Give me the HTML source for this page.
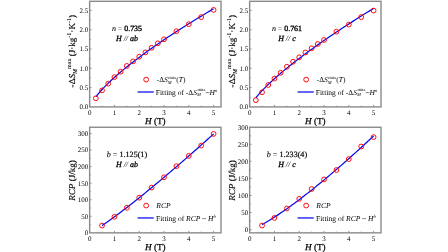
<!DOCTYPE html>
<html><head><meta charset="utf-8"><style>html,body{margin:0;padding:0;background:#fff;width:448px;height:252px;overflow:hidden}svg{display:block;filter:blur(0.5px)}</style></head>
<body>
<svg width="448" height="252" viewBox="0 0 448 252" font-family="'Liberation Serif', 'Times New Roman', serif" fill="#000" text-rendering="geometricPrecision">
<rect width="448" height="252" fill="#fff"/>
<polyline points="95.85,96.8 97.84,94.31 99.84,91.98 101.83,89.76 103.83,87.64 105.83,85.6 107.82,83.62 109.82,81.7 111.81,79.83 113.81,78 115.81,76.21 117.8,74.46 119.8,72.74 121.79,71.05 123.79,69.39 125.78,67.76 127.78,66.14 129.78,64.55 131.77,62.99 133.77,61.44 135.76,59.91 137.76,58.39 139.76,56.9 141.75,55.41 143.75,53.95 145.74,52.5 147.74,51.06 149.73,49.63 151.73,48.22 153.73,46.82 155.72,45.43 157.72,44.05 159.71,42.68 161.71,41.33 163.7,39.98 165.7,38.64 167.7,37.31 169.69,35.99 171.69,34.68 173.68,33.38 175.68,32.09 177.68,30.8 179.67,29.52 181.67,28.25 183.66,26.99 185.66,25.73 187.65,24.48 189.65,23.24 191.65,22 193.64,20.77 195.64,19.55 197.63,18.33 199.63,17.12 201.63,15.91 203.62,14.71 205.62,13.52 207.61,12.33 209.61,11.14 211.6,9.97 213.6,8.79" fill="none" stroke="#0808ee" stroke-width="1.25"/>
<circle cx="95.85" cy="98.3" r="2.4" fill="none" stroke="#ff0000" stroke-width="0.95"/>
<circle cx="102.05" cy="90.4" r="2.4" fill="none" stroke="#ff0000" stroke-width="0.95"/>
<circle cx="108.24" cy="83.6" r="2.4" fill="none" stroke="#ff0000" stroke-width="0.95"/>
<circle cx="114.44" cy="77.1" r="2.4" fill="none" stroke="#ff0000" stroke-width="0.95"/>
<circle cx="120.64" cy="71.7" r="2.4" fill="none" stroke="#ff0000" stroke-width="0.95"/>
<circle cx="126.84" cy="65.9" r="2.4" fill="none" stroke="#ff0000" stroke-width="0.95"/>
<circle cx="133.03" cy="61.4" r="2.4" fill="none" stroke="#ff0000" stroke-width="0.95"/>
<circle cx="139.23" cy="56.7" r="2.4" fill="none" stroke="#ff0000" stroke-width="0.95"/>
<circle cx="145.43" cy="52.4" r="2.4" fill="none" stroke="#ff0000" stroke-width="0.95"/>
<circle cx="151.62" cy="47.8" r="2.4" fill="none" stroke="#ff0000" stroke-width="0.95"/>
<circle cx="157.82" cy="43.3" r="2.4" fill="none" stroke="#ff0000" stroke-width="0.95"/>
<circle cx="164.02" cy="39.3" r="2.4" fill="none" stroke="#ff0000" stroke-width="0.95"/>
<circle cx="176.42" cy="31.2" r="2.4" fill="none" stroke="#ff0000" stroke-width="0.95"/>
<circle cx="188.81" cy="24.2" r="2.4" fill="none" stroke="#ff0000" stroke-width="0.95"/>
<circle cx="201.2" cy="17.1" r="2.4" fill="none" stroke="#ff0000" stroke-width="0.95"/>
<circle cx="213.6" cy="9.9" r="2.4" fill="none" stroke="#ff0000" stroke-width="0.95"/>
<rect x="89.65" y="1.3" width="131.35" height="105.6" fill="none" stroke="#8a8a8a" stroke-width="1.4"/>
<line x1="89.65" y1="106.9" x2="89.65" y2="104.9" stroke="#8a8a8a" stroke-width="0.9"/>
<text x="89.65" y="114.6" text-anchor="middle" font-size="7.0">0</text>
<line x1="102.05" y1="106.9" x2="102.05" y2="105.7" stroke="#8a8a8a" stroke-width="0.9"/>
<line x1="114.44" y1="106.9" x2="114.44" y2="104.9" stroke="#8a8a8a" stroke-width="0.9"/>
<text x="114.44" y="114.6" text-anchor="middle" font-size="7.0">1</text>
<line x1="126.84" y1="106.9" x2="126.84" y2="105.7" stroke="#8a8a8a" stroke-width="0.9"/>
<line x1="139.23" y1="106.9" x2="139.23" y2="104.9" stroke="#8a8a8a" stroke-width="0.9"/>
<text x="139.23" y="114.6" text-anchor="middle" font-size="7.0">2</text>
<line x1="151.62" y1="106.9" x2="151.62" y2="105.7" stroke="#8a8a8a" stroke-width="0.9"/>
<line x1="164.02" y1="106.9" x2="164.02" y2="104.9" stroke="#8a8a8a" stroke-width="0.9"/>
<text x="164.02" y="114.6" text-anchor="middle" font-size="7.0">3</text>
<line x1="176.42" y1="106.9" x2="176.42" y2="105.7" stroke="#8a8a8a" stroke-width="0.9"/>
<line x1="188.81" y1="106.9" x2="188.81" y2="104.9" stroke="#8a8a8a" stroke-width="0.9"/>
<text x="188.81" y="114.6" text-anchor="middle" font-size="7.0">4</text>
<line x1="201.2" y1="106.9" x2="201.2" y2="105.7" stroke="#8a8a8a" stroke-width="0.9"/>
<line x1="213.6" y1="106.9" x2="213.6" y2="104.9" stroke="#8a8a8a" stroke-width="0.9"/>
<text x="213.6" y="114.6" text-anchor="middle" font-size="7.0">5</text>
<line x1="89.65" y1="97.3" x2="90.85" y2="97.3" stroke="#8a8a8a" stroke-width="0.9"/>
<line x1="89.65" y1="87.64" x2="91.65" y2="87.64" stroke="#8a8a8a" stroke-width="0.9"/>
<line x1="89.65" y1="77.99" x2="90.85" y2="77.99" stroke="#8a8a8a" stroke-width="0.9"/>
<line x1="89.65" y1="68.33" x2="91.65" y2="68.33" stroke="#8a8a8a" stroke-width="0.9"/>
<line x1="89.65" y1="58.68" x2="90.85" y2="58.68" stroke="#8a8a8a" stroke-width="0.9"/>
<line x1="89.65" y1="49.02" x2="91.65" y2="49.02" stroke="#8a8a8a" stroke-width="0.9"/>
<line x1="89.65" y1="39.37" x2="90.85" y2="39.37" stroke="#8a8a8a" stroke-width="0.9"/>
<line x1="89.65" y1="29.71" x2="91.65" y2="29.71" stroke="#8a8a8a" stroke-width="0.9"/>
<line x1="89.65" y1="20.06" x2="90.85" y2="20.06" stroke="#8a8a8a" stroke-width="0.9"/>
<line x1="89.65" y1="10.4" x2="91.65" y2="10.4" stroke="#8a8a8a" stroke-width="0.9"/>
<text x="88.15" y="109.3" text-anchor="end" font-size="7.0">0.0</text>
<text x="88.15" y="89.99" text-anchor="end" font-size="7.0">0.5</text>
<text x="88.15" y="70.68" text-anchor="end" font-size="7.0">1.0</text>
<text x="88.15" y="51.37" text-anchor="end" font-size="7.0">1.5</text>
<text x="88.15" y="32.06" text-anchor="end" font-size="7.0">2.0</text>
<text x="88.15" y="12.75" text-anchor="end" font-size="7.0">2.5</text>
<text x="126.95" y="30.6" text-anchor="middle" font-size="7.9" stroke="#000" stroke-width="0.32"><tspan font-style="italic" stroke-width="0.1">n</tspan> <tspan stroke-width="0">=</tspan> 0.735</text>
<text x="126.95" y="40.7" text-anchor="middle" font-size="7.9" font-style="italic" stroke="#000" stroke-width="0.3">H <tspan stroke-width="0">//</tspan> ab</text>
<circle cx="146.15" cy="79.6" r="2.4" fill="none" stroke="#ff0000" stroke-width="0.95"/>
<line x1="137.55" y1="92" x2="153.75" y2="92" stroke="#0808ee" stroke-width="1.25"/>
<text x="156.65" y="82.3" font-size="7.5">-Δ<tspan font-style="italic">S</tspan><tspan font-style="italic" font-size="4.6" dy="1.4">M</tspan><tspan font-size="4.6" dy="-4.6" dx="-3.23">max</tspan><tspan dy="3.2">(</tspan><tspan font-style="italic">T</tspan>)</text>
<text x="155.85" y="94.6" font-size="7.5">Fitting of -Δ<tspan font-style="italic">S</tspan><tspan font-style="italic" font-size="4.6" dy="1.4">M</tspan><tspan font-size="4.6" dy="-4.6" dx="-3.23">max</tspan><tspan dy="3.2">~</tspan><tspan font-style="italic">H</tspan><tspan font-style="italic" font-size="4.6" dy="-3">n</tspan></text>
<text x="155.32" y="124.2" text-anchor="middle" font-size="9.1" stroke="#000" stroke-width="0.25"><tspan font-style="italic">H</tspan> (T)</text>
<text transform="translate(74.75,51.2) rotate(-90)" text-anchor="middle" font-size="9.1" stroke="#000" stroke-width="0.15">-Δ<tspan font-style="italic">S</tspan><tspan font-style="italic" font-size="6.0" dy="2.1" stroke-width="0.08">M</tspan><tspan font-size="6.0" dy="-5.6" stroke-width="0.08">max</tspan><tspan dy="3.5"> (J·kg</tspan><tspan font-size="6.0" dy="-3.5" stroke-width="0.08">-1</tspan><tspan dy="3.5">·K</tspan><tspan font-size="6.0" dy="-3.5" stroke-width="0.08">-1</tspan><tspan dy="3.5">)</tspan></text>
<polyline points="255.85,97.77 257.84,95.36 259.84,93.09 261.83,90.92 263.83,88.84 265.83,86.82 267.82,84.86 269.82,82.96 271.81,81.1 273.81,79.28 275.81,77.49 277.8,75.74 279.8,74.01 281.79,72.32 283.79,70.64 285.78,68.99 287.78,67.37 289.78,65.76 291.77,64.17 293.77,62.6 295.76,61.05 297.76,59.51 299.76,57.99 301.75,56.48 303.75,54.99 305.74,53.51 307.74,52.04 309.73,50.59 311.73,49.14 313.73,47.71 315.72,46.28 317.72,44.87 319.71,43.47 321.71,42.08 323.7,40.69 325.7,39.32 327.7,37.95 329.69,36.59 331.69,35.24 333.68,33.9 335.68,32.57 337.68,31.24 339.67,29.92 341.67,28.6 343.66,27.3 345.66,26 347.65,24.71 349.65,23.42 351.65,22.14 353.64,20.86 355.64,19.59 357.63,18.33 359.63,17.07 361.63,15.82 363.62,14.57 365.62,13.33 367.61,12.09 369.61,10.86 371.6,9.64 373.6,8.41" fill="none" stroke="#0808ee" stroke-width="1.25"/>
<circle cx="255.85" cy="100.2" r="2.4" fill="none" stroke="#ff0000" stroke-width="0.95"/>
<circle cx="262.05" cy="92.3" r="2.4" fill="none" stroke="#ff0000" stroke-width="0.95"/>
<circle cx="268.24" cy="85" r="2.4" fill="none" stroke="#ff0000" stroke-width="0.95"/>
<circle cx="274.44" cy="78.6" r="2.4" fill="none" stroke="#ff0000" stroke-width="0.95"/>
<circle cx="280.64" cy="72.8" r="2.4" fill="none" stroke="#ff0000" stroke-width="0.95"/>
<circle cx="286.84" cy="66.7" r="2.4" fill="none" stroke="#ff0000" stroke-width="0.95"/>
<circle cx="293.03" cy="61.7" r="2.4" fill="none" stroke="#ff0000" stroke-width="0.95"/>
<circle cx="299.23" cy="57.3" r="2.4" fill="none" stroke="#ff0000" stroke-width="0.95"/>
<circle cx="305.43" cy="52.5" r="2.4" fill="none" stroke="#ff0000" stroke-width="0.95"/>
<circle cx="311.62" cy="48.3" r="2.4" fill="none" stroke="#ff0000" stroke-width="0.95"/>
<circle cx="317.82" cy="44" r="2.4" fill="none" stroke="#ff0000" stroke-width="0.95"/>
<circle cx="324.02" cy="40" r="2.4" fill="none" stroke="#ff0000" stroke-width="0.95"/>
<circle cx="336.42" cy="31.7" r="2.4" fill="none" stroke="#ff0000" stroke-width="0.95"/>
<circle cx="348.81" cy="24.6" r="2.4" fill="none" stroke="#ff0000" stroke-width="0.95"/>
<circle cx="361.2" cy="17.1" r="2.4" fill="none" stroke="#ff0000" stroke-width="0.95"/>
<circle cx="373.6" cy="10.6" r="2.4" fill="none" stroke="#ff0000" stroke-width="0.95"/>
<rect x="249.65" y="1.3" width="131.35" height="105.6" fill="none" stroke="#8a8a8a" stroke-width="1.4"/>
<line x1="249.65" y1="106.9" x2="249.65" y2="104.9" stroke="#8a8a8a" stroke-width="0.9"/>
<text x="249.65" y="114.6" text-anchor="middle" font-size="7.0">0</text>
<line x1="262.05" y1="106.9" x2="262.05" y2="105.7" stroke="#8a8a8a" stroke-width="0.9"/>
<line x1="274.44" y1="106.9" x2="274.44" y2="104.9" stroke="#8a8a8a" stroke-width="0.9"/>
<text x="274.44" y="114.6" text-anchor="middle" font-size="7.0">1</text>
<line x1="286.84" y1="106.9" x2="286.84" y2="105.7" stroke="#8a8a8a" stroke-width="0.9"/>
<line x1="299.23" y1="106.9" x2="299.23" y2="104.9" stroke="#8a8a8a" stroke-width="0.9"/>
<text x="299.23" y="114.6" text-anchor="middle" font-size="7.0">2</text>
<line x1="311.62" y1="106.9" x2="311.62" y2="105.7" stroke="#8a8a8a" stroke-width="0.9"/>
<line x1="324.02" y1="106.9" x2="324.02" y2="104.9" stroke="#8a8a8a" stroke-width="0.9"/>
<text x="324.02" y="114.6" text-anchor="middle" font-size="7.0">3</text>
<line x1="336.42" y1="106.9" x2="336.42" y2="105.7" stroke="#8a8a8a" stroke-width="0.9"/>
<line x1="348.81" y1="106.9" x2="348.81" y2="104.9" stroke="#8a8a8a" stroke-width="0.9"/>
<text x="348.81" y="114.6" text-anchor="middle" font-size="7.0">4</text>
<line x1="361.2" y1="106.9" x2="361.2" y2="105.7" stroke="#8a8a8a" stroke-width="0.9"/>
<line x1="373.6" y1="106.9" x2="373.6" y2="104.9" stroke="#8a8a8a" stroke-width="0.9"/>
<text x="373.6" y="114.6" text-anchor="middle" font-size="7.0">5</text>
<line x1="249.65" y1="97.3" x2="250.85" y2="97.3" stroke="#8a8a8a" stroke-width="0.9"/>
<line x1="249.65" y1="87.64" x2="251.65" y2="87.64" stroke="#8a8a8a" stroke-width="0.9"/>
<line x1="249.65" y1="77.99" x2="250.85" y2="77.99" stroke="#8a8a8a" stroke-width="0.9"/>
<line x1="249.65" y1="68.33" x2="251.65" y2="68.33" stroke="#8a8a8a" stroke-width="0.9"/>
<line x1="249.65" y1="58.68" x2="250.85" y2="58.68" stroke="#8a8a8a" stroke-width="0.9"/>
<line x1="249.65" y1="49.02" x2="251.65" y2="49.02" stroke="#8a8a8a" stroke-width="0.9"/>
<line x1="249.65" y1="39.37" x2="250.85" y2="39.37" stroke="#8a8a8a" stroke-width="0.9"/>
<line x1="249.65" y1="29.71" x2="251.65" y2="29.71" stroke="#8a8a8a" stroke-width="0.9"/>
<line x1="249.65" y1="20.06" x2="250.85" y2="20.06" stroke="#8a8a8a" stroke-width="0.9"/>
<line x1="249.65" y1="10.4" x2="251.65" y2="10.4" stroke="#8a8a8a" stroke-width="0.9"/>
<text x="248.15" y="109.3" text-anchor="end" font-size="7.0">0.0</text>
<text x="248.15" y="89.99" text-anchor="end" font-size="7.0">0.5</text>
<text x="248.15" y="70.68" text-anchor="end" font-size="7.0">1.0</text>
<text x="248.15" y="51.37" text-anchor="end" font-size="7.0">1.5</text>
<text x="248.15" y="32.06" text-anchor="end" font-size="7.0">2.0</text>
<text x="248.15" y="12.75" text-anchor="end" font-size="7.0">2.5</text>
<text x="286.95" y="30.6" text-anchor="middle" font-size="7.9" stroke="#000" stroke-width="0.32"><tspan font-style="italic" stroke-width="0.1">n</tspan> <tspan stroke-width="0">=</tspan> 0.761</text>
<text x="286.95" y="40.7" text-anchor="middle" font-size="7.9" font-style="italic" stroke="#000" stroke-width="0.3">H <tspan stroke-width="0">//</tspan> c</text>
<circle cx="306.15" cy="79.6" r="2.4" fill="none" stroke="#ff0000" stroke-width="0.95"/>
<line x1="297.55" y1="92" x2="313.75" y2="92" stroke="#0808ee" stroke-width="1.25"/>
<text x="316.65" y="82.3" font-size="7.5">-Δ<tspan font-style="italic">S</tspan><tspan font-style="italic" font-size="4.6" dy="1.4">M</tspan><tspan font-size="4.6" dy="-4.6" dx="-3.23">max</tspan><tspan dy="3.2">(</tspan><tspan font-style="italic">T</tspan>)</text>
<text x="315.85" y="94.6" font-size="7.5">Fitting of -Δ<tspan font-style="italic">S</tspan><tspan font-style="italic" font-size="4.6" dy="1.4">M</tspan><tspan font-size="4.6" dy="-4.6" dx="-3.23">max</tspan><tspan dy="3.2">~</tspan><tspan font-style="italic">H</tspan><tspan font-style="italic" font-size="4.6" dy="-3">n</tspan></text>
<text x="315.32" y="124.2" text-anchor="middle" font-size="9.1" stroke="#000" stroke-width="0.25"><tspan font-style="italic">H</tspan> (T)</text>
<text transform="translate(234.75,51.2) rotate(-90)" text-anchor="middle" font-size="9.1" stroke="#000" stroke-width="0.15">-Δ<tspan font-style="italic">S</tspan><tspan font-style="italic" font-size="6.0" dy="2.1" stroke-width="0.08">M</tspan><tspan font-size="6.0" dy="-5.6" stroke-width="0.08">max</tspan><tspan dy="3.5"> (J·kg</tspan><tspan font-size="6.0" dy="-3.5" stroke-width="0.08">-1</tspan><tspan dy="3.5">·K</tspan><tspan font-size="6.0" dy="-3.5" stroke-width="0.08">-1</tspan><tspan dy="3.5">)</tspan></text>
<polyline points="102.05,225.62 103.94,224.34 105.83,223.03 107.72,221.7 109.61,220.36 111.5,219 113.39,217.62 115.28,216.23 117.17,214.83 119.06,213.42 120.95,211.99 122.84,210.55 124.73,209.11 126.62,207.65 128.52,206.18 130.41,204.71 132.3,203.23 134.19,201.73 136.08,200.23 137.97,198.73 139.86,197.21 141.75,195.69 143.64,194.16 145.53,192.63 147.42,191.08 149.31,189.54 151.2,187.98 153.1,186.42 154.99,184.85 156.88,183.28 158.77,181.71 160.66,180.12 162.55,178.53 164.44,176.94 166.33,175.34 168.22,173.74 170.11,172.13 172,170.52 173.89,168.9 175.78,167.28 177.68,165.65 179.57,164.02 181.46,162.39 183.35,160.75 185.24,159.1 187.13,157.46 189.02,155.8 190.91,154.15 192.8,152.49 194.69,150.83 196.58,149.16 198.47,147.49 200.36,145.81 202.26,144.14 204.15,142.45 206.04,140.77 207.93,139.08 209.82,137.39 211.71,135.69 213.6,134" fill="none" stroke="#0808ee" stroke-width="1.25"/>
<circle cx="102.05" cy="225.6" r="2.4" fill="none" stroke="#ff0000" stroke-width="0.95"/>
<circle cx="114.44" cy="216.8" r="2.4" fill="none" stroke="#ff0000" stroke-width="0.95"/>
<circle cx="126.84" cy="207.8" r="2.4" fill="none" stroke="#ff0000" stroke-width="0.95"/>
<circle cx="139.23" cy="197.7" r="2.4" fill="none" stroke="#ff0000" stroke-width="0.95"/>
<circle cx="151.62" cy="187.6" r="2.4" fill="none" stroke="#ff0000" stroke-width="0.95"/>
<circle cx="164.02" cy="177.3" r="2.4" fill="none" stroke="#ff0000" stroke-width="0.95"/>
<circle cx="176.42" cy="166.2" r="2.4" fill="none" stroke="#ff0000" stroke-width="0.95"/>
<circle cx="188.81" cy="155.9" r="2.4" fill="none" stroke="#ff0000" stroke-width="0.95"/>
<circle cx="201.2" cy="145.6" r="2.4" fill="none" stroke="#ff0000" stroke-width="0.95"/>
<circle cx="213.6" cy="133.9" r="2.4" fill="none" stroke="#ff0000" stroke-width="0.95"/>
<rect x="89.65" y="127.25" width="131.35" height="105.6" fill="none" stroke="#8a8a8a" stroke-width="1.4"/>
<line x1="89.65" y1="232.85" x2="89.65" y2="230.85" stroke="#8a8a8a" stroke-width="0.9"/>
<text x="89.65" y="240.55" text-anchor="middle" font-size="7.0">0</text>
<line x1="102.05" y1="232.85" x2="102.05" y2="231.65" stroke="#8a8a8a" stroke-width="0.9"/>
<line x1="114.44" y1="232.85" x2="114.44" y2="230.85" stroke="#8a8a8a" stroke-width="0.9"/>
<text x="114.44" y="240.55" text-anchor="middle" font-size="7.0">1</text>
<line x1="126.84" y1="232.85" x2="126.84" y2="231.65" stroke="#8a8a8a" stroke-width="0.9"/>
<line x1="139.23" y1="232.85" x2="139.23" y2="230.85" stroke="#8a8a8a" stroke-width="0.9"/>
<text x="139.23" y="240.55" text-anchor="middle" font-size="7.0">2</text>
<line x1="151.62" y1="232.85" x2="151.62" y2="231.65" stroke="#8a8a8a" stroke-width="0.9"/>
<line x1="164.02" y1="232.85" x2="164.02" y2="230.85" stroke="#8a8a8a" stroke-width="0.9"/>
<text x="164.02" y="240.55" text-anchor="middle" font-size="7.0">3</text>
<line x1="176.42" y1="232.85" x2="176.42" y2="231.65" stroke="#8a8a8a" stroke-width="0.9"/>
<line x1="188.81" y1="232.85" x2="188.81" y2="230.85" stroke="#8a8a8a" stroke-width="0.9"/>
<text x="188.81" y="240.55" text-anchor="middle" font-size="7.0">4</text>
<line x1="201.2" y1="232.85" x2="201.2" y2="231.65" stroke="#8a8a8a" stroke-width="0.9"/>
<line x1="213.6" y1="232.85" x2="213.6" y2="230.85" stroke="#8a8a8a" stroke-width="0.9"/>
<text x="213.6" y="240.55" text-anchor="middle" font-size="7.0">5</text>
<line x1="89.65" y1="224.62" x2="90.85" y2="224.62" stroke="#8a8a8a" stroke-width="0.9"/>
<line x1="89.65" y1="216.34" x2="91.65" y2="216.34" stroke="#8a8a8a" stroke-width="0.9"/>
<line x1="89.65" y1="208.05" x2="90.85" y2="208.05" stroke="#8a8a8a" stroke-width="0.9"/>
<line x1="89.65" y1="199.77" x2="91.65" y2="199.77" stroke="#8a8a8a" stroke-width="0.9"/>
<line x1="89.65" y1="191.49" x2="90.85" y2="191.49" stroke="#8a8a8a" stroke-width="0.9"/>
<line x1="89.65" y1="183.21" x2="91.65" y2="183.21" stroke="#8a8a8a" stroke-width="0.9"/>
<line x1="89.65" y1="174.92" x2="90.85" y2="174.92" stroke="#8a8a8a" stroke-width="0.9"/>
<line x1="89.65" y1="166.64" x2="91.65" y2="166.64" stroke="#8a8a8a" stroke-width="0.9"/>
<line x1="89.65" y1="158.36" x2="90.85" y2="158.36" stroke="#8a8a8a" stroke-width="0.9"/>
<line x1="89.65" y1="150.07" x2="91.65" y2="150.07" stroke="#8a8a8a" stroke-width="0.9"/>
<line x1="89.65" y1="141.79" x2="90.85" y2="141.79" stroke="#8a8a8a" stroke-width="0.9"/>
<line x1="89.65" y1="133.51" x2="91.65" y2="133.51" stroke="#8a8a8a" stroke-width="0.9"/>
<text x="88.15" y="235.25" text-anchor="end" font-size="7.0">0</text>
<text x="88.15" y="218.69" text-anchor="end" font-size="7.0">50</text>
<text x="88.15" y="202.12" text-anchor="end" font-size="7.0">100</text>
<text x="88.15" y="185.56" text-anchor="end" font-size="7.0">150</text>
<text x="88.15" y="168.99" text-anchor="end" font-size="7.0">200</text>
<text x="88.15" y="152.42" text-anchor="end" font-size="7.0">250</text>
<text x="88.15" y="135.86" text-anchor="end" font-size="7.0">300</text>
<text x="126.95" y="156.55" text-anchor="middle" font-size="8.1" stroke="#000" stroke-width="0.2"><tspan font-style="italic" stroke-width="0.1">b</tspan> <tspan stroke-width="0">=</tspan> 1.125(1)</text>
<text x="126.95" y="166.65" text-anchor="middle" font-size="7.9" font-style="italic" stroke="#000" stroke-width="0.3">H <tspan stroke-width="0">//</tspan> ab</text>
<circle cx="146.15" cy="205.55" r="2.4" fill="none" stroke="#ff0000" stroke-width="0.95"/>
<line x1="137.55" y1="217.95" x2="153.75" y2="217.95" stroke="#0808ee" stroke-width="1.25"/>
<text x="156.35" y="208.35" font-size="7.5" font-style="italic">RCP</text>
<text x="156.05" y="221.05" font-size="7.5">Fitting of <tspan font-style="italic">RCP</tspan> ~ <tspan font-style="italic">H</tspan><tspan font-style="italic" font-size="4.6" dy="-3">b</tspan></text>
<text x="155.32" y="250.15" text-anchor="middle" font-size="9.1" stroke="#000" stroke-width="0.25"><tspan font-style="italic">H</tspan> (T)</text>
<text transform="translate(75.05,180.45) rotate(-90)" text-anchor="middle" font-size="9.1" stroke="#000" stroke-width="0.15"><tspan font-style="italic">RCP</tspan> (J/kg)</text>
<polyline points="262.05,224.59 263.94,223.53 265.83,222.45 267.72,221.33 269.61,220.19 271.5,219.02 273.39,217.83 275.28,216.61 277.17,215.38 279.06,214.12 280.95,212.85 282.84,211.55 284.73,210.24 286.62,208.92 288.52,207.57 290.41,206.21 292.3,204.84 294.19,203.45 296.08,202.05 297.97,200.64 299.86,199.21 301.75,197.77 303.64,196.32 305.53,194.86 307.42,193.38 309.31,191.89 311.2,190.39 313.1,188.89 314.99,187.37 316.88,185.84 318.77,184.3 320.66,182.75 322.55,181.19 324.44,179.62 326.33,178.04 328.22,176.46 330.11,174.86 332,173.26 333.89,171.64 335.78,170.02 337.68,168.39 339.57,166.75 341.46,165.11 343.35,163.45 345.24,161.79 347.13,160.12 349.02,158.44 350.91,156.76 352.8,155.07 354.69,153.37 356.58,151.66 358.47,149.95 360.36,148.23 362.26,146.5 364.15,144.77 366.04,143.03 367.93,141.28 369.82,139.53 371.71,137.77 373.6,136" fill="none" stroke="#0808ee" stroke-width="1.25"/>
<circle cx="262.05" cy="225.5" r="2.4" fill="none" stroke="#ff0000" stroke-width="0.95"/>
<circle cx="274.44" cy="217.9" r="2.4" fill="none" stroke="#ff0000" stroke-width="0.95"/>
<circle cx="286.84" cy="208.5" r="2.4" fill="none" stroke="#ff0000" stroke-width="0.95"/>
<circle cx="299.23" cy="198.8" r="2.4" fill="none" stroke="#ff0000" stroke-width="0.95"/>
<circle cx="311.62" cy="189" r="2.4" fill="none" stroke="#ff0000" stroke-width="0.95"/>
<circle cx="324.02" cy="179.4" r="2.4" fill="none" stroke="#ff0000" stroke-width="0.95"/>
<circle cx="336.42" cy="170" r="2.4" fill="none" stroke="#ff0000" stroke-width="0.95"/>
<circle cx="348.81" cy="159.1" r="2.4" fill="none" stroke="#ff0000" stroke-width="0.95"/>
<circle cx="361.2" cy="146.5" r="2.4" fill="none" stroke="#ff0000" stroke-width="0.95"/>
<circle cx="373.6" cy="137.1" r="2.4" fill="none" stroke="#ff0000" stroke-width="0.95"/>
<rect x="249.65" y="127.25" width="131.35" height="105.6" fill="none" stroke="#8a8a8a" stroke-width="1.4"/>
<line x1="249.65" y1="232.85" x2="249.65" y2="230.85" stroke="#8a8a8a" stroke-width="0.9"/>
<text x="249.65" y="240.55" text-anchor="middle" font-size="7.0">0</text>
<line x1="262.05" y1="232.85" x2="262.05" y2="231.65" stroke="#8a8a8a" stroke-width="0.9"/>
<line x1="274.44" y1="232.85" x2="274.44" y2="230.85" stroke="#8a8a8a" stroke-width="0.9"/>
<text x="274.44" y="240.55" text-anchor="middle" font-size="7.0">1</text>
<line x1="286.84" y1="232.85" x2="286.84" y2="231.65" stroke="#8a8a8a" stroke-width="0.9"/>
<line x1="299.23" y1="232.85" x2="299.23" y2="230.85" stroke="#8a8a8a" stroke-width="0.9"/>
<text x="299.23" y="240.55" text-anchor="middle" font-size="7.0">2</text>
<line x1="311.62" y1="232.85" x2="311.62" y2="231.65" stroke="#8a8a8a" stroke-width="0.9"/>
<line x1="324.02" y1="232.85" x2="324.02" y2="230.85" stroke="#8a8a8a" stroke-width="0.9"/>
<text x="324.02" y="240.55" text-anchor="middle" font-size="7.0">3</text>
<line x1="336.42" y1="232.85" x2="336.42" y2="231.65" stroke="#8a8a8a" stroke-width="0.9"/>
<line x1="348.81" y1="232.85" x2="348.81" y2="230.85" stroke="#8a8a8a" stroke-width="0.9"/>
<text x="348.81" y="240.55" text-anchor="middle" font-size="7.0">4</text>
<line x1="361.2" y1="232.85" x2="361.2" y2="231.65" stroke="#8a8a8a" stroke-width="0.9"/>
<line x1="373.6" y1="232.85" x2="373.6" y2="230.85" stroke="#8a8a8a" stroke-width="0.9"/>
<text x="373.6" y="240.55" text-anchor="middle" font-size="7.0">5</text>
<line x1="249.65" y1="229.6" x2="251.65" y2="229.6" stroke="#8a8a8a" stroke-width="0.9"/>
<line x1="249.65" y1="221.07" x2="250.85" y2="221.07" stroke="#8a8a8a" stroke-width="0.9"/>
<line x1="249.65" y1="212.53" x2="251.65" y2="212.53" stroke="#8a8a8a" stroke-width="0.9"/>
<line x1="249.65" y1="204" x2="250.85" y2="204" stroke="#8a8a8a" stroke-width="0.9"/>
<line x1="249.65" y1="195.47" x2="251.65" y2="195.47" stroke="#8a8a8a" stroke-width="0.9"/>
<line x1="249.65" y1="186.94" x2="250.85" y2="186.94" stroke="#8a8a8a" stroke-width="0.9"/>
<line x1="249.65" y1="178.41" x2="251.65" y2="178.41" stroke="#8a8a8a" stroke-width="0.9"/>
<line x1="249.65" y1="169.87" x2="250.85" y2="169.87" stroke="#8a8a8a" stroke-width="0.9"/>
<line x1="249.65" y1="161.34" x2="251.65" y2="161.34" stroke="#8a8a8a" stroke-width="0.9"/>
<line x1="249.65" y1="152.81" x2="250.85" y2="152.81" stroke="#8a8a8a" stroke-width="0.9"/>
<line x1="249.65" y1="144.27" x2="251.65" y2="144.27" stroke="#8a8a8a" stroke-width="0.9"/>
<line x1="249.65" y1="135.74" x2="250.85" y2="135.74" stroke="#8a8a8a" stroke-width="0.9"/>
<text x="248.15" y="231.95" text-anchor="end" font-size="7.0">0</text>
<text x="248.15" y="214.88" text-anchor="end" font-size="7.0">50</text>
<text x="248.15" y="197.82" text-anchor="end" font-size="7.0">100</text>
<text x="248.15" y="180.75" text-anchor="end" font-size="7.0">150</text>
<text x="248.15" y="163.69" text-anchor="end" font-size="7.0">200</text>
<text x="248.15" y="146.62" text-anchor="end" font-size="7.0">250</text>
<text x="248.15" y="129.56" text-anchor="end" font-size="7.0">300</text>
<text x="286.95" y="156.55" text-anchor="middle" font-size="8.1" stroke="#000" stroke-width="0.2"><tspan font-style="italic" stroke-width="0.1">b</tspan> <tspan stroke-width="0">=</tspan> 1.233(4)</text>
<text x="286.95" y="166.65" text-anchor="middle" font-size="7.9" font-style="italic" stroke="#000" stroke-width="0.3">H <tspan stroke-width="0">//</tspan> c</text>
<circle cx="306.15" cy="205.55" r="2.4" fill="none" stroke="#ff0000" stroke-width="0.95"/>
<line x1="297.55" y1="217.95" x2="313.75" y2="217.95" stroke="#0808ee" stroke-width="1.25"/>
<text x="316.35" y="208.35" font-size="7.5" font-style="italic">RCP</text>
<text x="316.05" y="221.05" font-size="7.5">Fitting of <tspan font-style="italic">RCP</tspan> ~ <tspan font-style="italic">H</tspan><tspan font-style="italic" font-size="4.6" dy="-3">b</tspan></text>
<text x="315.32" y="250.15" text-anchor="middle" font-size="9.1" stroke="#000" stroke-width="0.25"><tspan font-style="italic">H</tspan> (T)</text>
<text transform="translate(235.05,180.45) rotate(-90)" text-anchor="middle" font-size="9.1" stroke="#000" stroke-width="0.15"><tspan font-style="italic">RCP</tspan> (J/kg)</text>
</svg>
</body></html>
